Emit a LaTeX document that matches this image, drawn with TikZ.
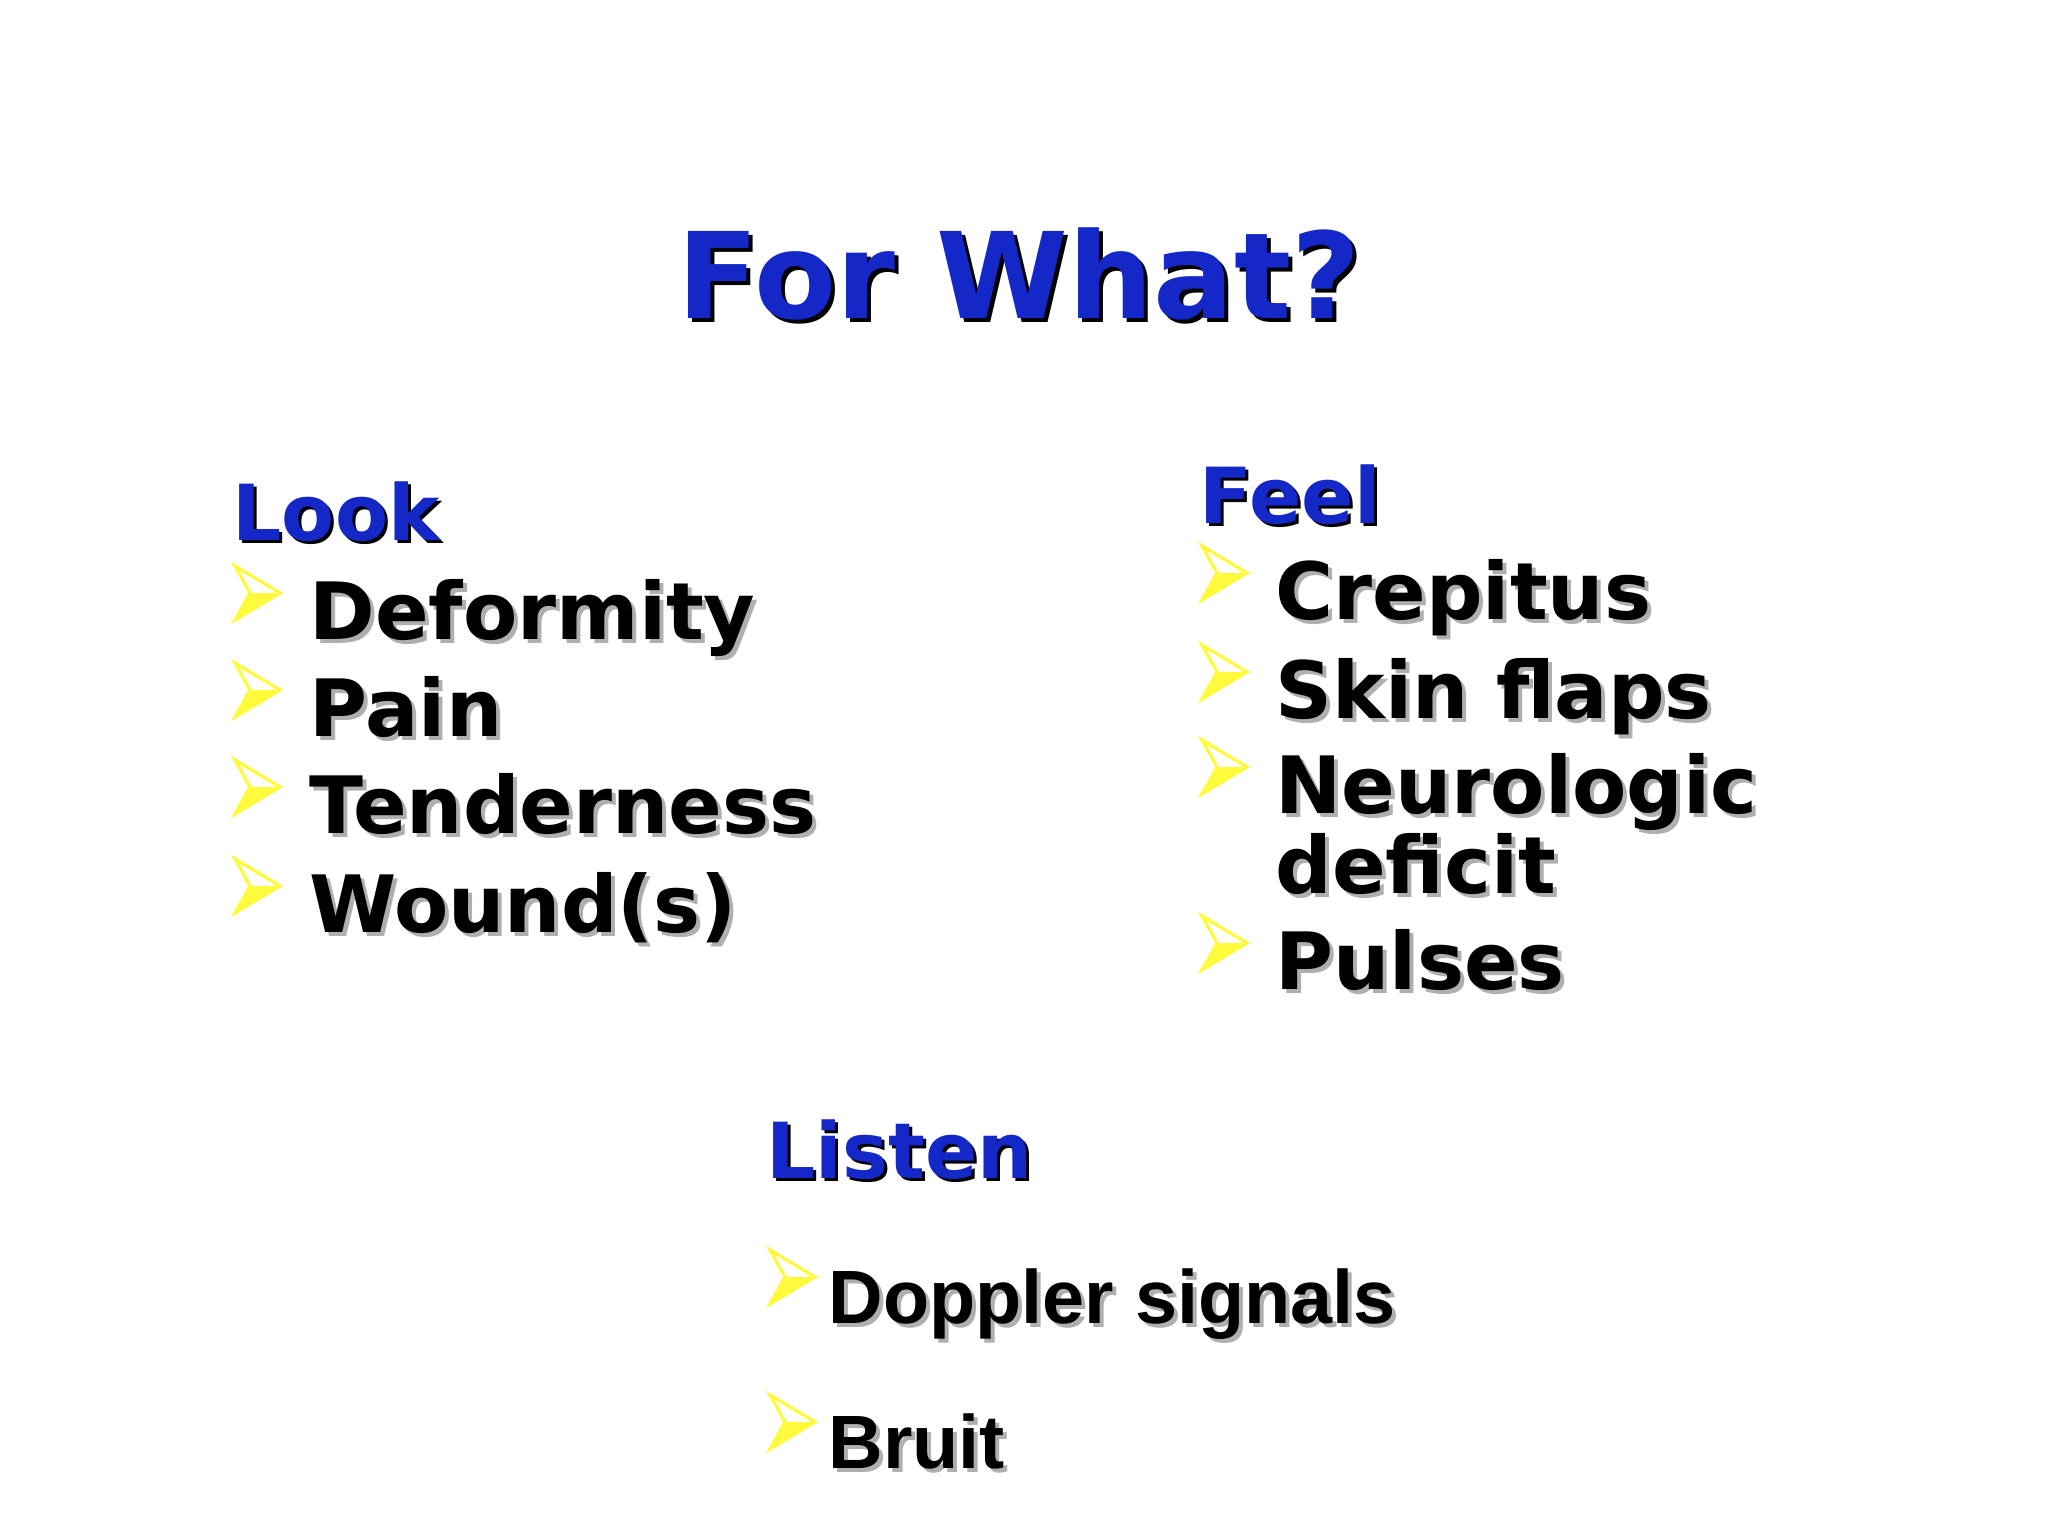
\documentclass[tikz,border=0pt]{standalone}
\usepackage{fontspec}
\setmainfont{DejaVu Sans}
\newfontfamily\lib{Liberation Sans}
\definecolor{tblue}{RGB}{20,40,200}
\definecolor{byel}{RGB}{255,250,60}
\definecolor{shgray}{RGB}{175,175,175}
\newcommand{\bul}[2]{%
  \begin{scope}[shift={(#1,#2)}]
    \fill[byel] (0,-0.27) -- (0.45,0) -- (0.15,0) -- cycle;
    \draw[byel, line width=0.9pt, line join=miter] (0,0.27) -- (0.45,0) -- (0,-0.27) -- (0.15,0) -- cycle;
  \end{scope}}
\begin{document}
\begin{tikzpicture}[
  head/.style={anchor=base west, text=tblue, font=\bfseries\fontsize{22}{26}\selectfont, inner sep=0},
  headsh/.style={head, text=black},
  item/.style={anchor=base west, text=black, font=\bfseries\fontsize{22.5}{27}\selectfont, inner sep=0},
  itemsh/.style={item, text=shgray},
  litem/.style={item, font=\lib\bfseries\fontsize{21.5}{26}\selectfont},
  litemsh/.style={litem, text=shgray},
]
\useasboundingbox (0,0) rectangle (20.48,15.36);
% title
\node[anchor=base, font=\bfseries\fontsize{34}{40}\selectfont, inner sep=0, text=black] at (10.23,12.13) {For What?};
\node[anchor=base, font=\bfseries\fontsize{34}{40}\selectfont, inner sep=0, text=tblue] (title) at (10.19,12.17) {For What?};
% Look
\node[headsh] at (2.35,9.92) {Look};
\node[head] (look) at (2.32,9.95) {Look};
\foreach \t/\y/\n in {Deformity/8.96/a, Pain/7.99/b, Tenderness/7.02/c, Wound(s)/6.03/d}{
  \node[itemsh] at (3.13,\y-0.04) {\t};
  \node[item] (look\n) at (3.09,\y) {\t};
  \bul{2.35}{\y+0.47}
}
% Feel
\node[headsh] at (12.02,10.09) {Feel};
\node[head] (feel) at (11.99,10.12) {Feel};
\foreach \t/\y/\n in {Crepitus/9.16/a, Skin flaps/8.17/b, Neurologic/7.22/c, Pulses/5.46/d}{
  \node[itemsh] at (12.79,\y-0.04) {\t};
  \node[item] (feel\n) at (12.75,\y) {\t};
  \bul{12.02}{\y+0.47}
}
\node[itemsh] at (12.79,6.38) {deficit};
\node[item] (feele) at (12.75,6.42) {deficit};
% Listen
\node[headsh] at (7.69,3.54) {Listen};
\node[head] (listen) at (7.66,3.57) {Listen};
\foreach \t/\y/\n in {Doppler signals/2.12/a, Bruit/0.67/b}{
  \node[litemsh] at (8.32,\y-0.04) {\t};
  \node[litem] (listen\n) at (8.28,\y) {\t};
  \bul{7.70}{\y+0.47}
}
\end{tikzpicture}
\end{document}
